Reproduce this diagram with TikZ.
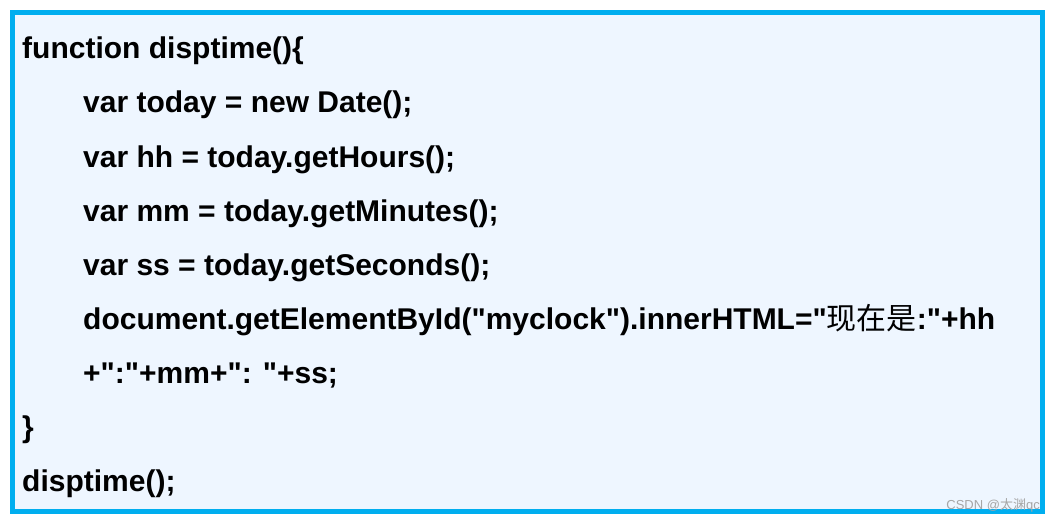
\documentclass[tikz,border=0pt]{standalone}
\usepackage{fontspec}
\setmainfont{Liberation Sans}
\newfontfamily\cjk{Noto Sans CJK SC}
\definecolor{frame}{RGB}{0,174,239}
\definecolor{bg}{RGB}{238,246,255}
\newcommand{\q}{\textquotedbl}
\begin{document}
\begin{tikzpicture}[x=1pt,y=-1pt,
  code/.style={anchor=base west,inner sep=0pt,font=\fontsize{30}{32}\selectfont\bfseries}]
\useasboundingbox (0,0) rectangle (1056,524);
\fill[white] (0,0) rectangle (1056,524);
\draw[frame,line width=5pt,fill=bg] (12.5,12.5) rectangle (1042.5,511.5);
\node[code] (l1) at (22,59) {function disptime()\{};
\node[code] (l2) at (83,113) {var today = new Date();};
\node[code] (l3) at (83,167) {var hh = today.getHours();};
\node[code] (l4) at (83,221) {var mm = today.getMinutes();};
\node[code] (l5) at (83,275) {var ss = today.getSeconds();};
\node[code] (l6) at (83,329) {document.getElementById(\q myclock\q).innerHTML=\q{\cjk\mdseries 现在是}:\q+hh};
\node[code] (l7) at (83,383) {+\q:\q+mm+\q: \q+ss;};
\node[code] (l8) at (22,437) {\}};
\node[code] (l9) at (22,491) {disptime();};
\node[anchor=base east,inner sep=0pt,text=gray!70,font=\fontsize{13}{14}\selectfont] (wm) at (1040,509) {CSDN @{\cjk 太渊}qc};
\end{tikzpicture}
\end{document}
